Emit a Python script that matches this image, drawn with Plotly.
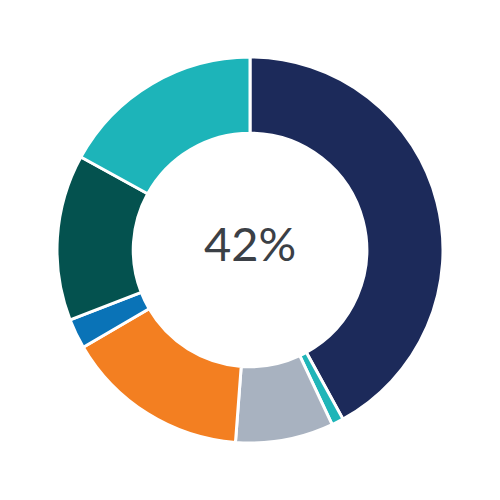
import plotly.graph_objects as go

# slices, clockwise from 12 o'clock
labels = ["Navy", "Teal", "Gray", "Orange", "Blue", "Dark teal", "Light teal"]
values = [42, 1, 8.2, 15.4, 2.5, 13.9, 17]
colors = ["#1c2a5a", "#1fb5b8", "#a8b2c0", "#f37f21", "#0a73b7", "#04524f", "#1db4b9"]
center_text = "42%"

fig = go.Figure(go.Pie(labels=labels,
                       values=values,
                       hole=0.605,
                       sort=False,
                       direction="clockwise",
                       rotation=0,
                       textinfo="none",
                       hoverinfo="label+percent",
                       marker=dict(colors=colors, line=dict(color="white", width=3))))

fig.add_annotation(text=center_text, x=0.5, y=0.518, xref="paper", yref="paper",
                   showarrow=False,
                   font=dict(family="Lato", size=47, color="#3b4046"))

# page body has an 8px margin, so the margins are offset to keep the ring centred
fig.update_layout(width=500, height=500,
                  showlegend=False,
                  paper_bgcolor="white",
                  margin=dict(l=49, r=65, t=49, b=65))

fig.write_html("out.html")
